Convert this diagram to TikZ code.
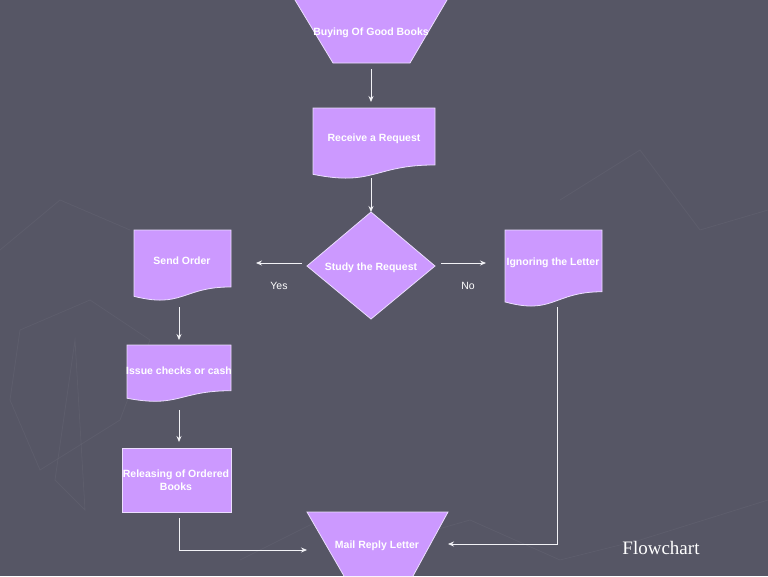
\documentclass[tikz,border=0pt]{standalone}
\usepackage{fontspec}
\setmainfont{Liberation Serif}
\newfontfamily\arialf{Liberation Sans}
\usetikzlibrary{arrows.meta,calc}
\definecolor{bgc}{RGB}{86,86,101}
\definecolor{boxc}{RGB}{204,153,255}
\definecolor{edgec}{RGB}{236,222,255}
\definecolor{linec}{RGB}{242,242,246}
\tikzset{
  shp/.style={fill=boxc, draw=edgec, line width=0.8pt},
  lbl/.style={text=white, font=\arialf\bfseries\fontsize{10.5}{13}\selectfont, inner sep=0pt, align=center},
  yn/.style={text=white, font=\arialf\fontsize{10.5}{13}\selectfont, inner sep=0pt},
  arr/.style={draw=linec, line width=0.8pt, -{Stealth[length=6pt,width=5pt]}},
  ln/.style={draw=linec, line width=0.8pt},
}
\begin{document}
\begin{tikzpicture}[x=1pt,y=-1pt]
\fill[bgc] (0,0) rectangle (768,576);
\useasboundingbox (0,0) rectangle (768,576);
% faint watermark lines
\begin{scope}[draw=white, opacity=0.045, line width=0.8pt]
\draw (20,330) -- (90,300) -- (150,340) -- (120,420) -- (40,470) -- (10,400) -- cycle;
\draw (75,340) -- (55,480) -- (85,510) -- cycle;
\draw (240,560) -- (320,520) -- (400,540) -- (470,520) -- (560,560) -- (640,540) -- (768,500);
\draw (560,200) -- (640,150) -- (700,230) -- (768,210);
\draw (0,250) -- (60,200) -- (130,230);
\end{scope}
% top trapezoid
\fill[boxc] (295,0) -- (447,0) -- (410,63) -- (333,63) -- cycle;
\draw[draw=edgec, line width=0.8pt] (295,0) -- (333,63) -- (410,63) -- (447,0);
\node[lbl] (buy) at (371,32.5) {Buying Of Good Books};
\coordinate (buyb) at (371,69);
% receive a request (document)
\begin{scope}[shift={(313,108)}, xscale=122, yscale=71]
\path[shp] (0,0) -- (1,0) -- (1,0.802) .. controls (0.5,0.802) and (0.5,1.1075) .. (0,0.934) -- cycle;
\end{scope}
\node[lbl] (recv) at (374,138.5) {Receive a Request};
\coordinate (recvb) at (371,178);
% diamond
\path[shp] (371,212) -- (435,266) -- (371,319) -- (307,266) -- cycle;
\node[lbl] (dec) at (371,267.5) {Study the Request};
\coordinate (dect) at (371,212);
\coordinate (decl) at (302,263);
\coordinate (decr) at (441,263);
% send order
\begin{scope}[shift={(134,230)}, xscale=97, yscale=71]
\path[shp] (0,0) -- (1,0) -- (1,0.802) .. controls (0.5,0.802) and (0.5,1.1075) .. (0,0.934) -- cycle;
\end{scope}
\node[lbl] (send) at (182,260.5) {Send Order};
\coordinate (sendr) at (256,263);
\coordinate (sendb) at (179,307);
% ignoring the letter
\begin{scope}[shift={(505,230)}, xscale=97, yscale=77]
\path[shp] (0,0) -- (1,0) -- (1,0.802) .. controls (0.5,0.802) and (0.5,1.1075) .. (0,0.934) -- cycle;
\end{scope}
\node[lbl] (ign) at (553,262.5) {Ignoring the Letter};
\coordinate (ignl) at (486,263);
\coordinate (ignb) at (557,307);
% issue checks
\begin{scope}[shift={(127,345)}, xscale=104, yscale=57]
\path[shp] (0,0) -- (1,0) -- (1,0.802) .. controls (0.5,0.802) and (0.5,1.1075) .. (0,0.934) -- cycle;
\end{scope}
\node[lbl] (iss) at (179,370.5) {Issue checks or cash};
\coordinate (isst) at (179,340);
\coordinate (issb) at (179,410);
% releasing
\path[shp] (122,448) rectangle (231,512);
\node[lbl] (rel) at (176,480.5) {Releasing of Ordered\\Books};
\coordinate (relt) at (179,442);
\coordinate (relb) at (179,518);
% mail reply letter
\fill[boxc] (307,512) -- (448,512) -- (413,576) -- (344,576) -- cycle;
\draw[draw=edgec, line width=0.8pt] (344,576) -- (307,512) -- (448,512) -- (413,576);
\node[lbl] (mail) at (377,545.5) {Mail Reply Letter};
\coordinate (maill) at (307,550);
\coordinate (mailr) at (448,544);
% connectors
\draw[arr] (buyb) -- (371,102);
\draw[arr] (recvb) -- (dect);
\draw[arr] (decl) -- (sendr);
\draw[arr] (decr) -- (ignl);
\draw[arr] (sendb) -- (isst);
\draw[arr] (issb) -- (relt);
\draw[arr] (relb) |- (maill);
\draw[arr] (ignb) |- (mailr);
\node[yn] (yes) at (279,286) {Yes};
\node[yn] (no) at (468,286) {No};
\node[text=white, font=\fontsize{19}{21}\selectfont, inner sep=0pt] (title) at (661,548) {Flowchart};
\end{tikzpicture}
\end{document}
